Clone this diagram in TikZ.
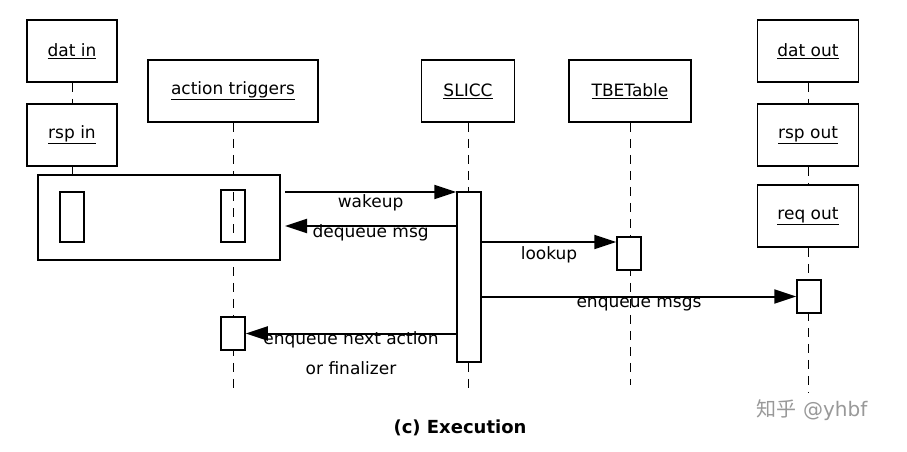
\documentclass[tikz,border=0pt]{standalone}
\usepackage{fontspec}
\setmainfont{DejaVu Sans}
\newfontfamily\cjk{Noto Sans CJK SC}
\usetikzlibrary{arrows.meta}
\begin{document}
\begin{tikzpicture}[x=1pt,y=-1pt,
  obj/.style={draw,line width=1.6pt,minimum height=62pt,inner sep=0pt,font=\fontsize{17}{19}\selectfont},
  act/.style={draw,fill=white,line width=1.5pt,minimum width=24pt,inner sep=0pt},
  life/.style={dash pattern=on 9pt off 7pt,line width=0.9pt},
  msg/.style={line width=2pt,-{Triangle[length=22pt,width=14pt]}},
  lab/.style={font=\fontsize{17}{19}\selectfont,inner sep=1pt}]
\useasboundingbox (0,0) rectangle (907,451);
\fill[white] (0,0) rectangle (907,451);
\node[obj,minimum width=90pt] (datin) at (72,51) {\underline{dat in}};
\node[obj,minimum width=90pt] (rspin) at (72,135) {\underline{rsp in}};
\node[obj,minimum width=170pt] (at) at (233,91) {\underline{action triggers}};
\node[obj,minimum width=93pt] (slicc) at (468,91) {\underline{SLICC}};
\node[obj,minimum width=122pt] (tbe) at (630,91) {\underline{TBETable}};
\node[obj,minimum width=101pt] (datout) at (808,51) {\underline{dat out}};
\node[obj,minimum width=101pt] (rspout) at (808,135) {\underline{rsp out}};
\node[obj,minimum width=101pt] (reqout) at (808,216) {\underline{req out}};
\coordinate (e1) at (233,392); \coordinate (e2) at (468,392);
\coordinate (e3) at (630,385); \coordinate (e4) at (808,392);
\draw[life] (datin.south) -- (rspin.north);
\draw[life] (rspin.south) -- (72,262);
\draw[life] (at.south) -- (e1);
\draw[life] (slicc.south) -- (e2);
\draw[life] (tbe.south) -- (e3);
\draw[life] (datout.south) -- (rspout.north);
\draw[life] (rspout.south) -- (reqout.north);
\draw[life] (reqout.south) -- (e4);
\node[draw,fill=white,line width=1.6pt,minimum width=242pt,minimum height=85pt,inner sep=0pt] (frame) at (159,217.5) {};
\node[act,minimum height=50pt] (a1) at (72,217) {};
\node[act,minimum height=52pt] (a2) at (233,216) {};
\draw[life] (233,192) -- (233,240);
\node[act,minimum height=170pt] (s) at (469,277) {};
\node[act,minimum height=33pt] (t) at (629,253.5) {};
\node[act,minimum height=33pt] (r) at (809,296.5) {};
\node[act,minimum height=33pt] (a3) at (233,333.5) {};
\coordinate (w0) at (285,192);
\draw[msg] (w0) -- (s.north west |- w0) node[lab,midway,below=1pt] {wakeup};
\coordinate (d0) at (285,226);
\draw[msg] (s.west |- d0) -- (d0) node[lab,midway,below=-3pt] {dequeue msg};
\draw[msg] (s.east |- 0,242) -- (t.west |- 0,242) node[lab,pos=0.5,below=3pt] {lookup};
\draw[msg] (s.east |- r.west) -- (r.west) node[lab,midway,below=-1pt] {enqueue msgs};
\draw[msg] (s.west |- a3.east) -- (a3.east) node[lab,midway,below=-4pt,align=center,font=\fontsize{17}{30}\selectfont] {enqueue next action\\or finalizer};
\node[font=\bfseries\fontsize{18}{20}\selectfont] (cap) at (460,428) {(c) Execution};
\node[text=gray!80,font=\fontsize{20}{22}\selectfont] (wm) at (812,410) {{\cjk 知乎} @yhbf};
\end{tikzpicture}
\end{document}
